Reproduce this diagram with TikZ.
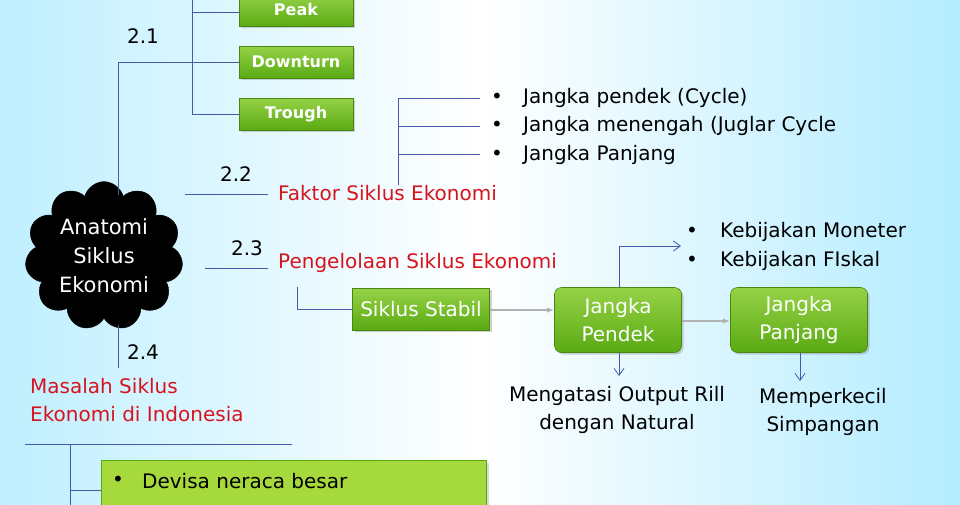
\documentclass[tikz,border=0pt]{standalone}
\usepackage{fontspec}
\setmainfont{DejaVu Sans}
\usetikzlibrary{shapes.symbols,arrows.meta,shadows}
\definecolor{lnblue}{RGB}{70,90,170}
\definecolor{gtop}{RGB}{150,210,70}
\definecolor{gbot}{RGB}{90,170,20}
\definecolor{redt}{RGB}{215,20,30}
\tikzset{
 gbox/.style={draw=gbot!80!black,line width=0.6pt,top color=gtop,bottom color=gbot,text=white,font=\fontsize{16}{18}\selectfont\bfseries,minimum height=32pt,align=center,drop shadow={opacity=0.35,shadow xshift=2pt,shadow yshift=-2pt}},
 rbox/.style={gbox,rounded corners=7pt,font=\fontsize{20}{28}\selectfont,minimum height=65pt},
 ln/.style={draw=lnblue,line width=0.8pt},
 arr/.style={ln,-{Straight Barb[length=7pt,width=10pt]}},
 garr/.style={draw=gray!60,line width=2pt,-{Latex[length=7pt]}},
 num/.style={font=\fontsize{20}{24}\selectfont,anchor=center},
 red/.style={text=redt,font=\fontsize{20}{24}\selectfont,anchor=west,inner sep=0},
 txt/.style={font=\fontsize{20}{28}\selectfont,align=center},
 bt/.style={font=\fontsize{20}{24}\selectfont,anchor=west,inner sep=0}
}
\begin{document}
\begin{tikzpicture}[x=1pt,y=-1pt]
\useasboundingbox (0,0) rectangle (960,504);
\clip (0,0) rectangle (960,504);
\shade[left color=blue!25!cyan!25,right color=white] (0,0) rectangle (480,504);
\shade[left color=white,right color=blue!25!cyan!30] (480,0) rectangle (960,504);
% 2.1 branch
\node[gbox,minimum width=114pt] (peak) at (296,10) {Peak};
\node[gbox,minimum width=114pt] (down) at (296,62) {Downturn};
\node[gbox,minimum width=114pt] (trough) at (296,114) {Trough};
\coordinate (v1) at (192,-5);
\coordinate (j1) at (192,62);
\draw[ln] (v1) |- (trough.west);
\draw[ln] (192,12) -- (peak.west|-0,12);
\draw[ln] (j1) -- (down.west);
\node[cloud,cloud puffs=11,aspect=1.1,fill=black,draw=black,minimum width=152pt,minimum height=140pt,text=white,font=\fontsize{21}{29}\selectfont,align=center] (cl) at (104,256) {Anatomi\\Siklus\\Ekonomi};
\coordinate (t1) at (118,195);
\draw[ln] (t1) |- (j1);
\node[num] (n21) at (143,36) {2.1};
% 2.2
\node[red] (fak) at (278,193) {Faktor Siklus Ekonomi};
\coordinate (c22) at (185,194);
\draw[ln] (c22) -- (268,194);
\node[num] (n22) at (236,174) {2.2};
\coordinate (b0) at (398,185);
\draw[ln] (b0) -- (398,98) -- (480,98);
\draw[ln] (398,126) -- (480,126);
\draw[ln] (398,154) -- (480,154);
\foreach \y/\t in {98/Jangka pendek (Cycle),126/Jangka menengah (Juglar Cycle,155/Jangka Panjang}{
 \node[font=\fontsize{20}{24}\selectfont] at (497,\y) {•};
 \node[bt] at (523,\y) {\t};}
% 2.3
\node[red] (pen) at (278,263) {Pengelolaan Siklus Ekonomi};
\draw[ln] (205,268) -- (268,268);
\node[num] (n23) at (247,248) {2.3};
\node[gbox,font=\fontsize{20}{24}\selectfont,minimum width=137pt,minimum height=42pt] (ss) at (421,309) {Siklus Stabil};
\draw[ln] (297,287) |- (ss.west);
\node[rbox,minimum width=127pt] (jp) at (618,320) {Jangka\\Pendek};
\node[rbox,minimum width=137pt] (jl) at (799,320) {Jangka\\Panjang};
\draw[garr] (ss.east|-0,310) -- (jp.west|-0,310);
\draw[garr] (jp.east|-0,321) -- (jl.west|-0,321);
\coordinate (kb) at (681,246);
\draw[arr] (619,288) |- (kb);
\foreach \y/\t in {232/Kebijakan Moneter,261/Kebijakan FIskal}{
 \node[font=\fontsize{20}{24}\selectfont] at (692,\y) {•};
 \node[bt] at (720,\y) {\t};}
\node[txt] (mo) at (617,410) {Mengatasi Output Rill\\dengan Natural};
\node[txt] (ms) at (823,412) {Memperkecil\\Simpangan};
\draw[arr] (619,353) -- (619,376);
\draw[arr] (800,353) -- (800,381);
% 2.4
\node[red,align=left,font=\fontsize{20}{28}\selectfont] (mas) at (30,400) {Masalah Siklus\\Ekonomi di Indonesia};
\draw[ln] (118,325) -- (118,368);
\node[num] (n24) at (143,352) {2.4};
\draw[ln] (25,444) -- (292,444);
\node[draw=gbot,line width=0.8pt,fill=gtop!85!yellow,minimum width=385pt,minimum height=60pt,anchor=north west,drop shadow={opacity=0.3}] (dv) at (101,460) {};
\node[font=\fontsize{20}{24}\selectfont] at (118,481) {•};
\node[bt] at (142,481) {Devisa neraca besar};
\draw[ln] (70,444) -- (70,510);
\draw[ln] (70,490) -- (dv.west|-0,490);
\end{tikzpicture}
\end{document}
